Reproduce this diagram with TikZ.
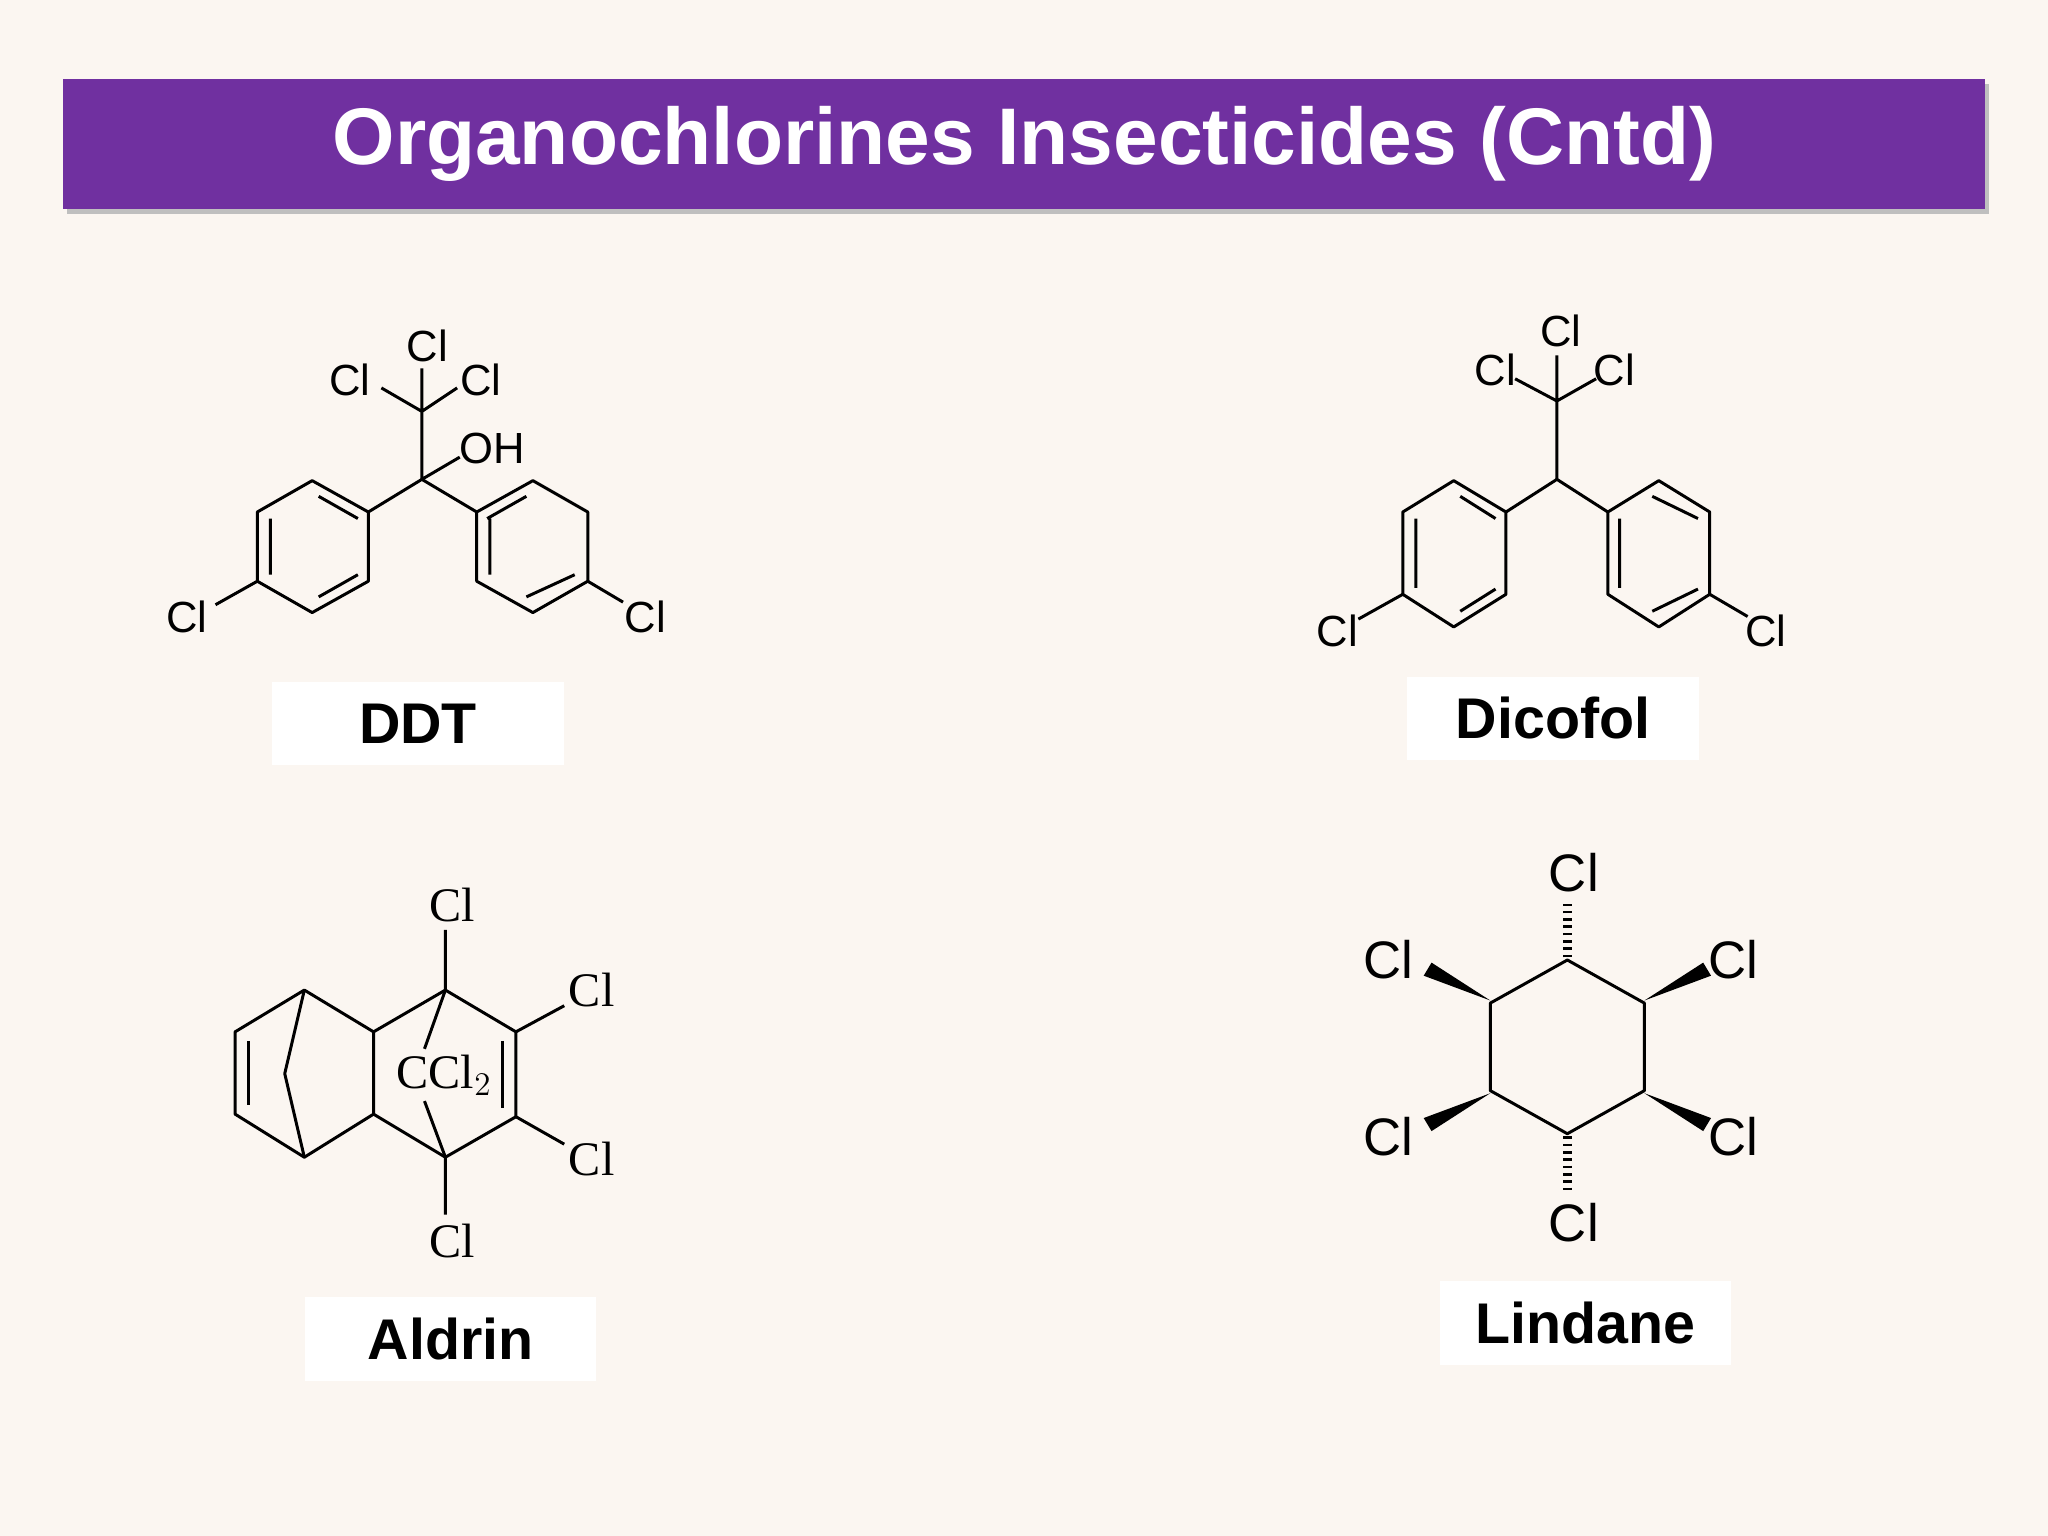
\documentclass[tikz,border=0pt]{standalone}
\usepackage{fontspec}
\setmainfont{Liberation Sans}
\newfontfamily\serifchem{Liberation Serif}
\begin{document}
\begin{tikzpicture}[x=0.02cm,y=-0.02cm,
  bd/.style={line width=1.3pt,line join=round},
  atm/.style={font=\fontsize{19}{19}\selectfont,inner sep=0pt},
  sat/.style={font=\serifchem\fontsize{21}{21}\selectfont,inner sep=0pt},
  lat/.style={font=\fontsize{23}{23}\selectfont,inner sep=0pt},
  lab/.style={fill=white,minimum width=4.46cm,minimum height=1.28cm,font=\bfseries\fontsize{25}{25}\selectfont,inner sep=0pt}]
\useasboundingbox (0,0) rectangle (1568,1176);
\fill[color={rgb,255:red,251;green,246;blue,241}] (0,0) rectangle (1568,1176);
\fill[black!25] (51,64) rectangle (1523,164);
\node[fill={rgb,255:red,112;green,48;blue,160},minimum width=29.44cm,minimum height=2cm,inner sep=0pt,anchor=north west,text=white,font=\bfseries\fontsize{35}{35}\selectfont] (title) at (48,60) {Organochlorines Insecticides (Cntd)};
% ---------- DDT ----------
\coordinate (c1) at (323,367); \coordinate (c2) at (323,315);
\node[atm] (dc1) at (327,265) {Cl}; \node[atm] (dc2) at (268,291) {Cl}; \node[atm] (dc3) at (368,291) {Cl};
\node[atm] (doh) at (377,343) {OH};
\draw[bd] (c1)--(c2) (c2)--(323,282) (c2)--(292,297) (c2)--(350,297) (c1)--(352,350);
\draw[bd] (282,392)--(239,368)--(197,392)--(197,445)--(239,469)--(282,445)--cycle;
\draw[bd] (244,380)--(274,397) (207,397)--(207,440) (244,457)--(274,440);
\draw[bd] (365,392)--(408,368)--(450,392)--(450,445)--(408,469)--(365,445)--cycle;
\draw[bd] (403,380)--(373,397) (375,397)--(375,440) (403,457)--(440,440);
\draw[bd] (c1)--(282,392) (c1)--(365,392) (197,445)--(165,463) (450,445)--(477,461);
\node[atm] (dc4) at (143,472) {Cl}; \node[atm] (dc5) at (494,472) {Cl};
\node[lab] (ddt) at (320,554) {DDT};
% ---------- Dicofol ----------
\coordinate (k1) at (1192,367); \coordinate (k2) at (1192,307);
\node[atm] (kc1) at (1195,253) {Cl}; \node[atm] (kc2) at (1145,283) {Cl}; \node[atm] (kc3) at (1236,283) {Cl};
\draw[bd] (k1)--(k2) (k2)--(1192,272) (k2)--(1160,290) (k2)--(1222,290);
\draw[bd] (1153,392)--(1113,368)--(1074,392)--(1074,455)--(1113,480)--(1153,455)--cycle;
\draw[bd] (1118,380)--(1145,397) (1084,397)--(1084,450) (1118,468)--(1145,451);
\draw[bd] (1231,392)--(1270,368)--(1309,392)--(1309,455)--(1270,480)--(1231,455)--cycle;
\draw[bd] (1265,380)--(1300,397) (1240,397)--(1240,450) (1265,468)--(1300,451);
\draw[bd] (k1)--(1153,392) (k1)--(1231,392) (1074,455)--(1040,474) (1309,455)--(1338,472);
\node[atm] (kc4) at (1024,483) {Cl}; \node[atm] (kc5) at (1352,483) {Cl};
\node[lab] (dic) at (1189,550) {Dicofol};
% ---------- Aldrin ----------
\draw[bd] (233,758)--(180,790)--(180,853)--(233,886)--(286,853)--(286,790)--cycle;
\draw[bd] (190,797)--(190,846);
\draw[bd] (233,758)--(218,822)--(233,886);
\draw[bd] (286,790)--(341,758)--(395,790)--(395,855)--(341,886)--(286,853);
\draw[bd] (385,797)--(385,848);
\draw[bd] (341,758)--(341,712) (341,886)--(341,930) (395,790)--(432,770) (395,855)--(432,876);
\draw[bd] (341,758)--(325,803) (325,843)--(341,886);
\node[sat] (ac1) at (346,693) {Cl}; \node[sat] (ac2) at (346,950) {Cl};
\node[sat] (ac3) at (453,758) {Cl}; \node[sat] (ac4) at (453,887) {Cl};
\node[sat,fill={rgb,255:red,251;green,246;blue,241},inner sep=1pt] (acc) at (340,823) {CCl$_2$};
\node[lab] (ald) at (345,1025) {Aldrin};
% ---------- Lindane ----------
\draw[bd] (1200,735)--(1259,768)--(1259,835)--(1200,868)--(1141,835)--(1141,768)--cycle;
\draw[line width=4pt,dash pattern=on 1.2pt off 2pt] (1200,733)--(1200,692);
\draw[line width=4pt,dash pattern=on 1.2pt off 2pt] (1200,870)--(1200,913);
\fill (1141,766)--(1096,737)--(1090,747)--cycle;
\fill (1259,766)--(1304,737)--(1310,747)--cycle;
\fill (1141,837)--(1090,856)--(1096,866)--cycle;
\fill (1259,837)--(1310,856)--(1304,866)--cycle;
\node[lat] (lc1) at (1205,668) {Cl}; \node[lat] (lc2) at (1205,936) {Cl};
\node[lat] (lc3) at (1063,735) {Cl}; \node[lat] (lc4) at (1327,735) {Cl};
\node[lat] (lc5) at (1063,870) {Cl}; \node[lat] (lc6) at (1327,870) {Cl};
\node[lab] (lin) at (1214,1013) {Lindane};
\end{tikzpicture}
\end{document}
